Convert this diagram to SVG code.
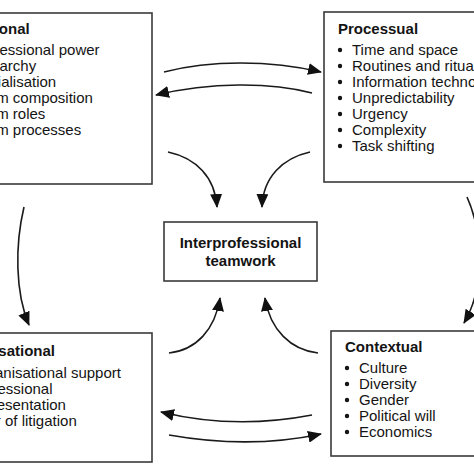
<svg xmlns="http://www.w3.org/2000/svg" width="474" height="474" viewBox="0 0 474 474">
<style>
.box{fill:#fff;stroke:#3a3a3a;stroke-width:1.6}
.t{font-family:"Liberation Sans",Arial,sans-serif;font-size:15px;fill:#141414}
.h{font-family:"Liberation Sans",Arial,sans-serif;font-size:15px;font-weight:bold;fill:#141414}
.b{fill:#141414}
.c{fill:none;stroke:#1a1a1a;stroke-width:1.6;marker-end:url(#ah)}
</style>
<defs>
<marker id="ah" markerUnits="userSpaceOnUse" markerWidth="14" markerHeight="12" viewBox="0 0 14 12" refX="13" refY="6" orient="auto">
<path d="M0,0 L14,6 L0,12 Z" fill="#111"/>
</marker>
</defs>
<rect width="474" height="474" fill="#fff"/>
<g id="connectors">
<path class="c" d="M164,72 C210,60 270,60 321,72"/>
<path class="c" d="M312,93 C270,82 210,82 156,95"/>
<path class="c" d="M168,152 C196,158 215,177 217,207"/>
<path class="c" d="M310,152 C283,158 263,177 262,207"/>
<path class="c" d="M169,353 C196,350 215,330 220,298"/>
<path class="c" d="M318,353 C291,350 270,330 265,298"/>
<path class="c" d="M312,415 C260,425 210,424 161,412"/>
<path class="c" d="M169,435 C220,444 270,445 321,434"/>
<path class="c" d="M24,207 C15,245 15,292 29,325"/>
<path class="c" d="M467,197 C484,235 484,290 464,323"/>
</g>
<g id="relational">
<rect class="box" x="-60" y="13" width="212" height="171"/>
<text class="h" x="-42" y="34">Relational</text>
<g class="b"><circle cx="-40" cy="50" r="2.2"/><circle cx="-40" cy="66" r="2.2"/><circle cx="-40" cy="82" r="2.2"/><circle cx="-40" cy="98" r="2.2"/><circle cx="-40" cy="114" r="2.2"/><circle cx="-40" cy="130" r="2.2"/></g>
<text class="t" x="-28" y="55">Professional power</text>
<text class="t" x="-28" y="71">Hierarchy</text>
<text class="t" x="-28" y="87">Socialisation</text>
<text class="t" x="-28" y="103">Team composition</text>
<text class="t" x="-28" y="119">Team roles</text>
<text class="t" x="-28" y="135">Team processes</text>
</g>
<g id="processual">
<rect class="box" x="324" y="12" width="220" height="170"/>
<text class="h" x="338" y="34">Processual</text>
<g class="b"><circle cx="340" cy="50" r="2.2"/><circle cx="340" cy="66" r="2.2"/><circle cx="340" cy="82" r="2.2"/><circle cx="340" cy="98" r="2.2"/><circle cx="340" cy="114" r="2.2"/><circle cx="340" cy="130" r="2.2"/><circle cx="340" cy="146" r="2.2"/></g>
<text class="t" x="352" y="55">Time and space</text>
<text class="t" x="352" y="71">Routines and rituals</text>
<text class="t" x="352" y="87">Information technology</text>
<text class="t" x="352" y="103">Unpredictability</text>
<text class="t" x="352" y="119">Urgency</text>
<text class="t" x="352" y="135">Complexity</text>
<text class="t" x="352" y="151">Task shifting</text>
</g>
<g id="center">
<rect class="box" x="164" y="222" width="153" height="59"/>
<text class="h" x="240.5" y="248" text-anchor="middle" font-size="14.5">Interprofessional</text>
<text class="h" x="240.5" y="266" text-anchor="middle" font-size="14.5">teamwork</text>
</g>
<g id="organisational">
<rect class="box" x="-60" y="333" width="212" height="129"/>
<text class="h" x="-50" y="356">Organisational</text>
<g class="b"><circle cx="-42" cy="373" r="2.2"/><circle cx="-42" cy="389" r="2.2"/><circle cx="-42" cy="421" r="2.2"/></g>
<text class="t" x="-30" y="378">Organisational support</text>
<text class="t" x="-30" y="394">Professional</text>
<text class="t" x="-30" y="410">representation</text>
<text class="t" x="-30" y="426">Fear of litigation</text>
</g>
<g id="contextual">
<rect class="box" x="331" y="331" width="220" height="125"/>
<text class="h" x="345" y="352">Contextual</text>
<g class="b"><circle cx="347" cy="368" r="2.2"/><circle cx="347" cy="384" r="2.2"/><circle cx="347" cy="400" r="2.2"/><circle cx="347" cy="416" r="2.2"/><circle cx="347" cy="432" r="2.2"/></g>
<text class="t" x="359" y="373">Culture</text>
<text class="t" x="359" y="389">Diversity</text>
<text class="t" x="359" y="405">Gender</text>
<text class="t" x="359" y="421">Political will</text>
<text class="t" x="359" y="437">Economics</text>
</g>
</svg>
